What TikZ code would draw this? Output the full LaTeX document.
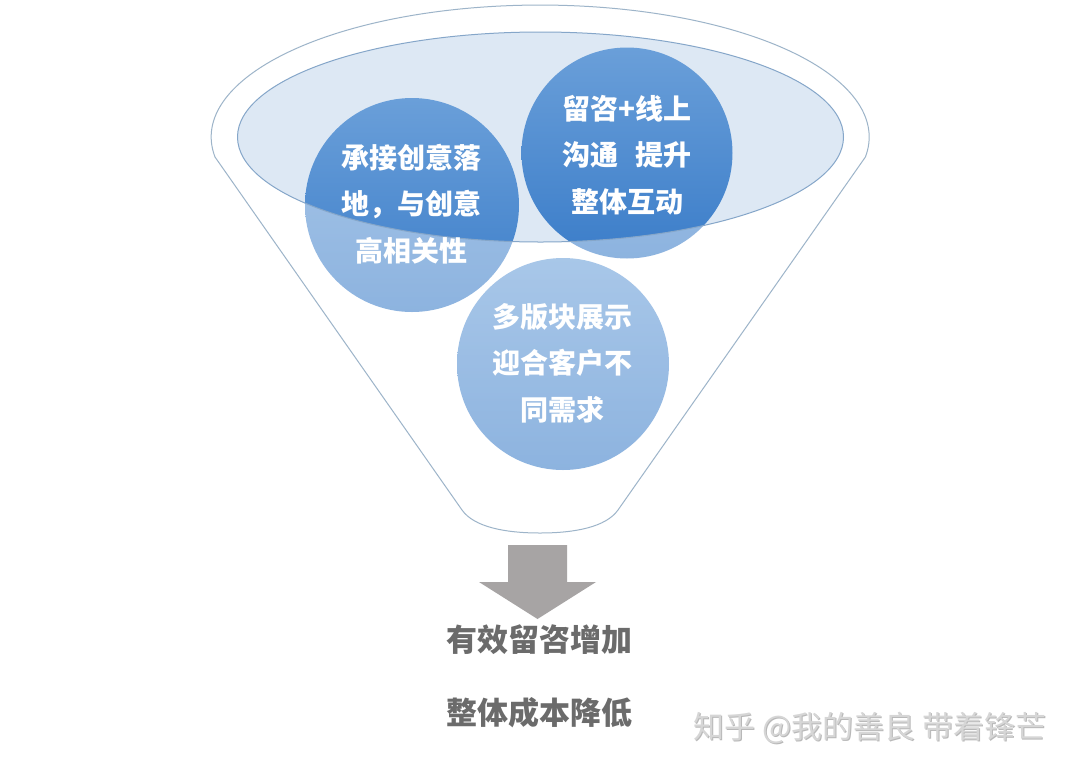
\documentclass[tikz,border=0pt]{standalone}
\usepackage{fontspec}
\newfontfamily\cjk{Noto Sans CJK SC}
\definecolor{bubtop}{HTML}{6A9FD9}
\definecolor{bubbot}{HTML}{3B7DC9}
\definecolor{openfill}{HTML}{DDE8F4}
\definecolor{funline}{HTML}{9DB4C9}
\definecolor{openline}{HTML}{85A6C9}
\definecolor{arrowgrey}{HTML}{A7A4A4}
\definecolor{restext}{HTML}{6B6B6B}
\definecolor{wmark}{HTML}{D6D6D6}
\definecolor{wshadow}{HTML}{B8B8B8}
\begin{document}
\begin{tikzpicture}[x=1pt,y=-1pt,
  bubble/.style={circle, inner sep=0pt, draw=none, top color=bubtop, bottom color=bubbot},
  btext/.style={text=white, align=center, inner sep=0pt, font=\cjk\bfseries\fontsize{28}{46.5}\selectfont},
  rtext/.style={text=restext, inner sep=0pt, font=\cjk\bfseries\fontsize{31}{36}\selectfont},
  wtext/.style={inner sep=0pt, font=\cjk\fontsize{31}{36}\selectfont}]
\useasboundingbox (0,0) rectangle (1080,772);
\fill[white] (0,0) rectangle (1080,772);
% opening of the funnel
\fill[openfill] (540.5,137) ellipse [x radius=303, y radius=105];
% bubbles
\node[bubble, minimum size=214] (c1) at (412,205) {};
\node[bubble, minimum size=211] (c2) at (627,153) {};
\node[bubble, minimum size=212] (c3) at (563,364) {};
% glass of the funnel
\fill[white, fill opacity=0.42, even odd rule]
  (215,157) arc[start angle=171.3, end angle=368.7, x radius=329, y radius=132]
  -- (618,510) .. controls (606,527) and (575,533) .. (540,533)
  .. controls (505,533) and (474,527) .. (462,510) -- cycle
  (540.5,137) ellipse [x radius=303, y radius=105];
\draw[funline, line width=1pt, line join=round]
  (215,157) arc[start angle=171.3, end angle=368.7, x radius=329, y radius=132]
  -- (618,510) .. controls (606,527) and (575,533) .. (540,533)
  .. controls (505,533) and (474,527) .. (462,510) -- cycle;
\draw[openline, line width=1pt] (540.5,137) ellipse [x radius=303, y radius=105];
% bubble texts
\node[btext] (t1) at (411,204) {承接创意落\\地，与创意\\高相关性};
\node[btext] (t2) at (627,155) {留咨+线上\\沟通\hspace{0.6em}提升\\整体互动};
\node[btext] (t3) at (562,363) {多版块展示\\迎合客户不\\同需求};
% arrow
\fill[arrowgrey] (508,545) -- (567,545) -- (567,582) -- (596,582) -- (537.5,619)
  -- (479,582) -- (508,582) -- cycle;
% results
\node[rtext] (r1) at (539,640) {有效留咨增加};
\node[rtext] (r2) at (539,713) {整体成本降低};
% watermark
\node[wtext, text=wshadow] (wm0) at (871,729) {知乎 @我的善良 带着锋芒};
\node[wtext, text=wmark] (wm) at (870,728) {知乎 @我的善良 带着锋芒};
\end{tikzpicture}
\end{document}
